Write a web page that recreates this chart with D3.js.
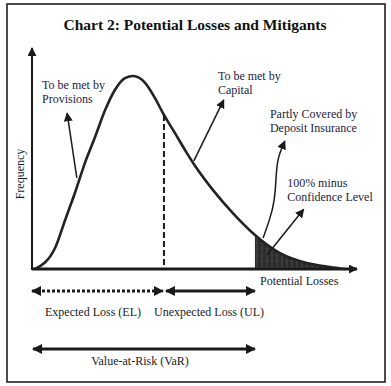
<!DOCTYPE html>
<html>
<head>
<meta charset="utf-8">
<script src="https://cdn.jsdelivr.net/npm/d3@7"></script>
<style>
  body { margin: 0; background: #fff; }
  svg text { font-family: "Liberation Serif", "DejaVu Serif", serif; }
</style>
</head>
<body>
<svg width="391" height="386"></svg>
<script>
// loss distribution (loss 0-100, frequency 0-100)
const losses    = [0.9, 7.1, 10.2, 13.2, 16.3, 19.4, 22.5, 25.5, 28.6, 31.1, 34.8, 37.8, 40.6, 44.0, 47.1, 50.2, 55.7, 61.8, 68.6, 76.3, 84.6, 91.7, 96.3];
const frequency = [0,   9.5, 22.2, 34.4, 48.0, 59.7, 71.9, 81.0, 86.4, 87.3, 84.2, 77.4, 69.7, 61.5, 53.8, 46.6, 35.7, 25.3, 15.4, 7.2,  2.7,  0.9,  0];
const expectedLoss = 40.6;
const valueAtRisk  = 68.6;

const title = "Chart 2: Potential Losses and Mitigants";
const rangeLabels = ["Expected Loss (EL)", "Unexpected Loss (UL)", "Value-at-Risk (VaR)"];

const svg = d3.select("svg");
const ink = "#1a1a1a";
const labelInk = "#1c1c40";

const x = d3.scaleLinear().domain([0, 100]).range([32, 357]);
const y = d3.scaleLinear().domain([0, 100]).range([269, 48]);

const pts = losses.map((l, i) => ({ l: l, f: frequency[i] }));

// frame
svg.append("rect")
  .attr("x", 7).attr("y", 4).attr("width", 378).attr("height", 378)
  .attr("fill", "none").attr("stroke", "#111").attr("stroke-width", 1.5);

svg.append("text")
  .attr("x", 195).attr("y", 30)
  .attr("text-anchor", "middle")
  .style("font-size", "15.5px").style("font-weight", "bold")
  .attr("fill", "#111")
  .text(title);

// arrow markers
const defs = svg.append("defs");
function marker(id, w, h) {
  defs.append("marker")
    .attr("id", id)
    .attr("viewBox", "0 0 10 10")
    .attr("refX", 9).attr("refY", 5)
    .attr("markerUnits", "userSpaceOnUse")
    .attr("markerWidth", w).attr("markerHeight", h)
    .attr("orient", "auto-start-reverse")
    .append("path")
    .attr("d", "M0,0L10,5L0,10Z")
    .attr("fill", ink);
}
marker("head", 9, 9);
marker("big", 10, 10);

const pat = defs.append("pattern")
  .attr("id", "hatch")
  .attr("patternUnits", "userSpaceOnUse")
  .attr("width", 5).attr("height", 6);
pat.append("rect").attr("width", 5).attr("height", 6).attr("fill", "#2a2a2a");
pat.append("line").attr("x1", 2).attr("x2", 2).attr("y1", 0).attr("y2", 6)
  .attr("stroke", "#5a5a5a").attr("stroke-width", 0.7);
pat.append("line").attr("x1", 0).attr("x2", 5).attr("y1", 3).attr("y2", 3)
  .attr("stroke", "#444").attr("stroke-width", 0.4);

// tail shading beyond VaR
const tail = pts.filter(d => d.l >= valueAtRisk);
svg.append("path")
  .datum(tail)
  .attr("fill", "url(#hatch)")
  .attr("d", d3.area().x(d => x(d.l)).y0(y(0)).y1(d => y(d.f)).curve(d3.curveMonotoneX));

// axes
svg.append("line")
  .attr("x1", x(0)).attr("x2", x(0)).attr("y1", y(0) + 1).attr("y2", y(100))
  .attr("stroke", ink).attr("stroke-width", 2).attr("marker-end", "url(#head)");
svg.append("line")
  .attr("x1", x(0)).attr("x2", x(100)).attr("y1", y(0)).attr("y2", y(0))
  .attr("stroke", ink).attr("stroke-width", 3).attr("marker-end", "url(#head)");

// distribution
svg.append("path")
  .datum(pts)
  .attr("fill", "none")
  .attr("stroke", "#222")
  .attr("stroke-width", 2.6)
  .attr("d", d3.line().x(d => x(d.l)).y(d => y(d.f)).curve(d3.curveMonotoneX));

const elPoint = pts.find(d => d.l === expectedLoss);
svg.append("line")
  .attr("x1", x(expectedLoss)).attr("x2", x(expectedLoss))
  .attr("y1", y(elPoint.f)).attr("y2", y(0))
  .attr("stroke", ink).attr("stroke-width", 2)
  .attr("stroke-dasharray", "6,3");

// axis labels
svg.append("text")
  .attr("transform", "translate(24," + 174 + ") rotate(-90)")
  .attr("text-anchor", "middle")
  .style("font-size", "12px").attr("fill", "#222")
  .text("Frequency");
svg.append("text")
  .attr("x", 260).attr("y", 285)
  .style("font-size", "12px").attr("fill", "#222")
  .text("Potential Losses");

// annotations (positions in chart units)
function note(lines, lx, ly) {
  const t = svg.append("text")
    .attr("x", x(lx)).attr("y", y(ly))
    .style("font-size", "12px").attr("fill", labelInk);
  lines.forEach((s, i) => t.append("tspan").attr("x", x(lx)).attr("dy", i ? 14 : 0).text(s));
}
function pointer(a, b) {
  svg.append("line")
    .attr("x1", x(a[0])).attr("y1", y(a[1]))
    .attr("x2", x(b[0])).attr("y2", y(b[1]))
    .attr("stroke", ink).attr("stroke-width", 1.5)
    .attr("marker-end", "url(#head)");
}

note(["To be met by", "Provisions"], 3.1, 81.4);
pointer([13.8, 41.2], [10.8, 70.5]);

note(["To be met by", "Capital"], 57.2, 85.5);
pointer([49.8, 48.9], [59.0, 76.5]);

note(["Partly Covered by", "Deposit Insurance"], 73.2, 68.3);
const depositPath = [[71.1, 14.0], [73.2, 22.6], [74.6, 30.3], [75.1, 40.7], [75.4, 49.8], [77.8, 57.9]];
svg.append("path")
  .datum(depositPath)
  .attr("fill", "none").attr("stroke", ink).attr("stroke-width", 1.5)
  .attr("marker-end", "url(#head)")
  .attr("d", d3.line().x(d => x(d[0])).y(d => y(d[1])).curve(d3.curveBasis));

note(["100% minus", "Confidence Level"], 78.5, 37.1);
pointer([72.3, 6.3], [83.6, 27.0]);

// loss ranges below the axis
function span(x0, x1, yy, dashed) {
  svg.append("line")
    .attr("x1", x0).attr("x2", x1).attr("y1", yy).attr("y2", yy)
    .attr("stroke", ink).attr("stroke-width", 3)
    .attr("stroke-dasharray", dashed ? "3,2" : null)
    .attr("marker-start", "url(#big)").attr("marker-end", "url(#big)");
}
span(x(0), x(expectedLoss) - 1, 291, true);
span(x(expectedLoss) + 2, x(valueAtRisk), 291, false);
span(x(0) + 1, x(valueAtRisk), 349, false);

svg.append("text").attr("x", 93).attr("y", 316).attr("text-anchor", "middle")
  .style("font-size", "12px").attr("fill", "#222").text(rangeLabels[0]);
svg.append("text").attr("x", 209).attr("y", 316).attr("text-anchor", "middle")
  .style("font-size", "12px").attr("fill", "#222").text(rangeLabels[1]);
svg.append("text").attr("x", 140).attr("y", 365).attr("text-anchor", "middle")
  .style("font-size", "12px").attr("fill", "#222").text(rangeLabels[2]);
</script>
</body>
</html>
